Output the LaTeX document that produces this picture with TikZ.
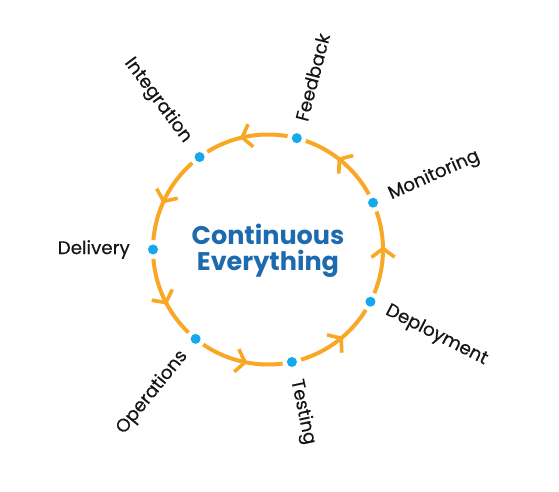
\documentclass[tikz,border=0pt]{standalone}
\usepackage{fontspec}
\setmainfont{Poppins}
\newfontfamily\lblfont{Poppins}[FakeBold=0.35]
\usetikzlibrary{calc}
\definecolor{ringorange}{HTML}{F9A825}
\definecolor{dotblue}{HTML}{15A8EC}
\definecolor{titleblue}{HTML}{1D6BAE}
\definecolor{labelblack}{HTML}{151515}
\begin{document}
\begin{tikzpicture}[x=1pt,y=1pt,
  ring/.style={line width=4pt, draw=ringorange},
  chev/.style={line width=3.6pt, draw=ringorange, line join=miter},
  dot/.style={circle, fill=dotblue, inner sep=0pt, minimum size=10pt},
  lbl/.style={font=\lblfont\fontsize{18.3}{21}\selectfont, text=labelblack, inner sep=0pt}]
\useasboundingbox (0,0) rectangle (559,491);
\coordinate (C) at (268,241.5);
\def\R{115}
\def\g{4.7}
% dots
\foreach \n/\a in {test/-78, depl/-27, moni/24, feed/75.5, inte/126.5, deli/180, oper/231}
  \node[dot] (\n) at ($(C)+(\a:\R)$) {};
% ring segments with chevrons
\foreach \a/\b in {-78/-27, -27/24, 24/75.5, 75.5/126.5, 126.5/180, 180/231, 231/282} {
  \draw[ring] ($(C)+(\a+\g:\R)$) arc[start angle=\a+\g, end angle=\b-\g, radius=\R];
  \pgfmathsetmacro\m{(\a+\b)/2+2}
  \draw[chev] ($(C)+(\m:\R)+(\m-37:14.5)$) -- ($(C)+(\m:\R)$) -- ($(C)+(\m:\R)+(\m-143:14.5)$);
}
% labels
\node[lbl, rotate=-78, anchor=west] (testL) at ($(C)+(-78:133)$) {Testing};
\node[lbl, rotate=-27, anchor=west] (deplL) at ($(C)+(-27:133)$) {Deployment};
\node[lbl, rotate=24, anchor=west] (moniL) at ($(C)+(24:133)$) {Monitoring};
\node[lbl, rotate=75.5, anchor=west] (feedL) at ($(C)+(75.5:133)$) {Feedback};
\node[lbl, rotate=-53.5, anchor=east] (inteL) at ($(C)+(126.5:135)$) {Integration};
\node[lbl, anchor=east] (deliL) at ($(C)+(180:138)$) {Delivery};
\node[lbl, rotate=51, anchor=east] (operL) at ($(C)+(231:133)$) {Operations};
% title
\node[font=\fontsize{25.5}{26.5}\selectfont\bfseries, text=titleblue, align=center, inner sep=0pt] (title) at (268,240) {Continuous\\Everything};
\end{tikzpicture}
\end{document}
